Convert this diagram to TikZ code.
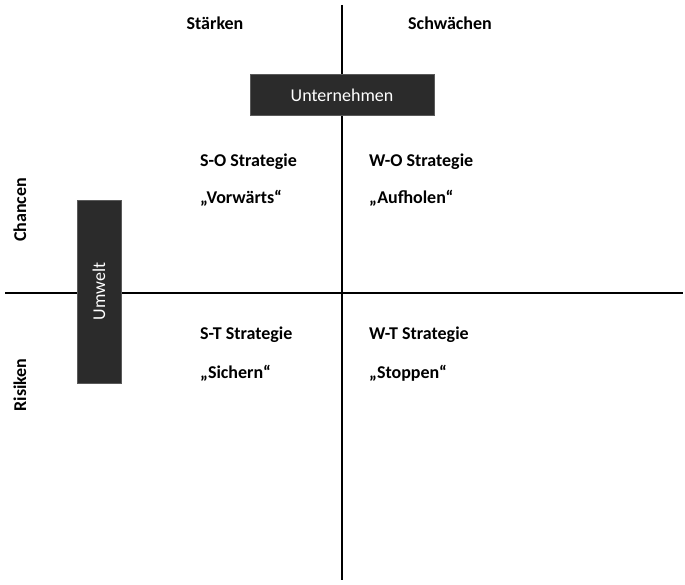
\documentclass[tikz,border=0pt]{standalone}
\usepackage{fontspec}
\setmainfont{Carlito}
\usepackage{tikz}
\usetikzlibrary{positioning}

\definecolor{boxgray}{HTML}{2B2B2B}
\definecolor{rimgray}{HTML}{5A5A5A}

\tikzset{
  axis/.style={line width=2pt, black},
  darkbox/.style={rectangle, fill=boxgray, draw=rimgray, line width=0.8pt, text=white,
    font=\fontsize{18}{21}\selectfont, inner sep=0pt},
  head/.style={font=\bfseries\fontsize{18}{21}\selectfont, inner sep=0pt},
  quad/.style={font=\bfseries\fontsize{18}{21}\selectfont, inner sep=0pt, anchor=west}
}

\begin{document}
\begin{tikzpicture}[x=1pt,y=-1pt]
        \useasboundingbox (0,0) rectangle (685,585);

        % axes
        \coordinate (top) at (342,5);
        \coordinate (bot) at (342,580);
        \coordinate (lft) at (5,293);
        \coordinate (rgt) at (683,293);
        \draw[axis] (top) -- (bot);
        \draw[axis] (lft) -- (rgt);

        % boxes
        \node[darkbox, minimum width=184pt, minimum height=41pt] (firm) at (342,95) {Unternehmen};
        \node[darkbox, rotate=90, minimum width=183pt, minimum height=44pt] (env) at (99,291.5) {Umwelt};

        % headings
        \node[head] (str) at (215,23) {Stärken};
        \node[head] (weak) at (450,23) {Schwächen};
        \node[head, rotate=90] (chance) at (20,210) {Chancen};
        \node[head, rotate=90] (risk) at (20,385) {Risiken};

        % quadrants
        \node[quad] (so) at (200,162) {S-O Strategie};
        \node[quad] (sov) [below=36pt of so.west, anchor=west] {„Vorwärts“};
        \node[quad] (wo) at (369,162) {W-O Strategie};
        \node[quad] (wov) [below=36pt of wo.west, anchor=west] {„Aufholen“};

        \node[quad] (st) at (200,335) {S-T Strategie};
        \node[quad] (stv) [below=38pt of st.west, anchor=west] {„Sichern“};
        \node[quad] (wt) at (369,335) {W-T Strategie};
        \node[quad] (wtv) [below=38pt of wt.west, anchor=west] {„Stoppen“};
\end{tikzpicture}
\end{document}
